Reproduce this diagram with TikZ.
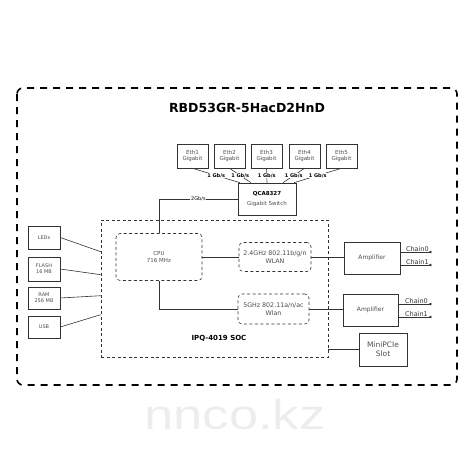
\documentclass[tikz,border=0pt]{standalone}
\usepackage{fontspec}
\setmainfont{DejaVu Sans}
\newfontfamily\wmfont{Liberation Sans}
\usetikzlibrary{arrows.meta, positioning, calc}

\begin{document}
\begin{tikzpicture}[x=1pt, y=-1pt, font=\fontsize{5.5}{6.5}\selectfont,
  blk/.style={draw=black!80, line width=0.6pt, align=center, inner sep=0pt, text=black!70},
  dblk/.style={blk, dash pattern=on 3pt off 2.5pt, rounded corners=4pt},
  wire/.style={draw=black!80, line width=0.6pt},
  rate/.style={fill=white, inner sep=0.6pt, font=\fontsize{5}{6}\selectfont\bfseries},
  chainln/.style={wire, -{Latex[reversed, length=3pt, width=3pt]}},
  chainlbl/.style={above, inner sep=0.6pt, font=\fontsize{6.5}{7.5}\selectfont, text=black!80}]
  \useasboundingbox (0,0) rectangle (474,474);

  % board outline and title
  \draw[line width=1.6pt, dash pattern=on 7pt off 6pt, rounded corners=6pt] (17,88) rectangle (457,385);
  \node[font=\fontsize{12.5}{14}\selectfont\bfseries] (title) at (247,108) {RBD53GR-5HacD2HnD};

  % ethernet ports and switch
  \foreach \i/\x in {1/192.5, 2/229.5, 3/266.5, 4/304.5, 5/341.5}
    \node[blk, minimum width=31pt, minimum height=24pt] (eth\i) at (\x,156) {Eth\i\\Gigabit};
  \node[blk, minimum width=58pt, minimum height=32pt] (sw) at (267,199)
    {\textcolor{black}{\bfseries QCA8327}\\[3pt]Gigabit Switch};
  \foreach \i/\dx in {1/-27, 2/-16, 3/0, 4/16, 5/27}
    \draw[wire] (eth\i.south) -- node[rate] {1 Gb/s} ($(sw.north)+(\dx,0)$);

  % SoC
  \node[blk, dash pattern=on 3pt off 2.5pt, minimum width=227pt, minimum height=137pt] (soc) at (214.5,288.5) {};
  \node[font=\fontsize{7}{8}\selectfont\bfseries] (soclbl) at (219,338) {IPQ-4019 SOC};
  \node[dblk, minimum width=86pt, minimum height=47pt] (cpu) at (159,257) {CPU\\716 MHz};
  \node[dblk, minimum width=72pt, minimum height=29pt, font=\fontsize{6.3}{7.5}\selectfont] (wlan24) at (275,257) {2.4GHz 802.11b/g/n\\WLAN};
  \node[dblk, minimum width=71pt, minimum height=30pt, font=\fontsize{6.3}{7.5}\selectfont] (wlan5) at (273.5,309) {5GHz 802.11a/n/ac\\Wlan};

  \draw[wire] (sw.west) -- node[rate, font=\fontsize{5}{6}\selectfont] {2Gb/s} (cpu.north |- sw.west) -- (cpu.north);
  \draw[wire] (cpu.east) -- (wlan24.west);
  \draw[wire] (cpu.south) |- (wlan5.west);

  % radios
  \node[blk, minimum width=56pt, minimum height=32pt, font=\fontsize{6}{7}\selectfont] (amp1) at (372,258) {Amplifier};
  \node[blk, minimum width=55pt, minimum height=32pt, font=\fontsize{6}{7}\selectfont] (amp2) at (370.5,310) {Amplifier};
  \draw[wire] (wlan24.east) -- (wlan24.east -| amp1.west);
  \draw[wire] (wlan5.east) -- (wlan5.east -| amp2.west);
  \draw[chainln] ($(amp1.east)+(0,-6)$) -- +(31,0) node[chainlbl, pos=0.55] {Chain0};
  \draw[chainln] ($(amp1.east)+(0,7)$) -- +(31,0) node[chainlbl, pos=0.55] {Chain1};
  \draw[chainln] ($(amp2.east)+(0,-6)$) -- +(33,0) node[chainlbl, pos=0.55] {Chain0};
  \draw[chainln] ($(amp2.east)+(0,7)$) -- +(33,0) node[chainlbl, pos=0.55] {Chain1};

  \node[blk, minimum width=48pt, minimum height=33pt, font=\fontsize{7.5}{9}\selectfont] (pcie) at (383,349.5) {MiniPCIe\\Slot};
  \draw[wire] (soc.east |- pcie.west) -- (pcie.west);

  % peripherals
  \node[blk, minimum width=32pt, minimum height=23pt, font=\fontsize{5}{6}\selectfont] (leds) at (44,237.5) {LEDs};
  \node[blk, minimum width=32pt, minimum height=24pt, font=\fontsize{5}{6}\selectfont] (flash) at (44,269) {FLASH\\16 MB};
  \node[blk, minimum width=32pt, minimum height=22pt, font=\fontsize{5}{6}\selectfont] (ram) at (44,298) {RAM\\256 MB};
  \node[blk, minimum width=32pt, minimum height=22pt, font=\fontsize{5}{6}\selectfont] (usb) at (44,327) {USB};
  \draw[wire] (leds.east) -- ($(soc.north west)+(0,32)$);
  \draw[wire] (flash.east) -- ($(soc.north west)+(0,55)$);
  \draw[wire] (ram.east) -- ($(soc.north west)+(0,76)$);
  \draw[wire] (usb.east) -- ($(soc.north west)+(0,95)$);

  % watermark
  \node[text=gray!14, font=\wmfont\fontsize{42}{44}\selectfont] (wm) at (235,414) {\scalebox{1.25}[1]{nnco.kz}};
\end{tikzpicture}
\end{document}
